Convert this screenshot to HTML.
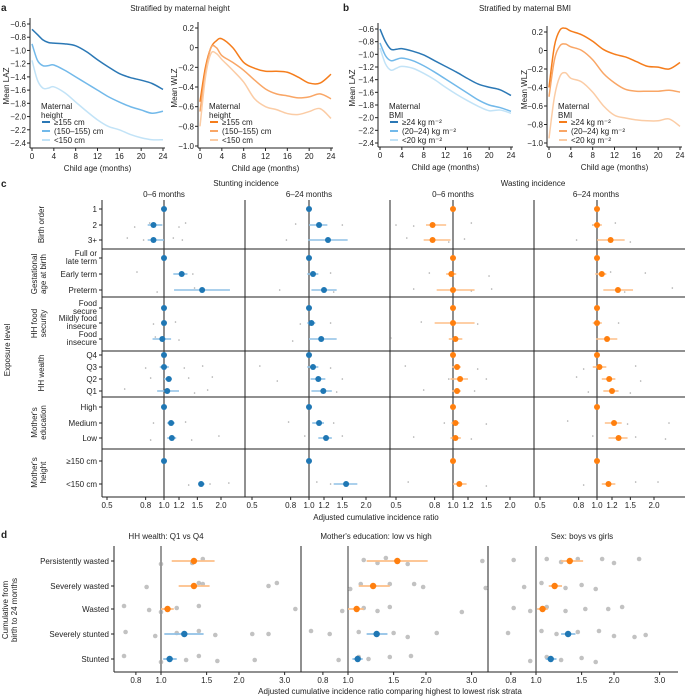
<!DOCTYPE html>
<html><head><meta charset="utf-8"><style>
html,body{margin:0;padding:0;background:#fff;}
svg{display:block;font-family:"Liberation Sans",Arial,sans-serif;}
text{fill:#222;font-size:8px;}
</style></head><body>
<svg id="fig" width="685" height="697" viewBox="0 0 685 697" xmlns="http://www.w3.org/2000/svg">
<g id="static">
<text x="1" y="11" style="font-size:10px;font-weight:bold">a</text>
<text x="343" y="11" style="font-size:10px;font-weight:bold">b</text>
<text x="1" y="187" style="font-size:10px;font-weight:bold">c</text>
<text x="1" y="538" style="font-size:10px;font-weight:bold">d</text>
<text x="180" y="11" text-anchor="middle">Stratified by maternal height</text>
<text x="525" y="11" text-anchor="middle">Stratified by maternal BMI</text>
<text x="246" y="186" text-anchor="middle">Stunting incidence</text>
<text x="533" y="186" text-anchor="middle">Wasting incidence</text>
<text x="164" y="197" text-anchor="middle">0–6 months</text>
<text x="309" y="197" text-anchor="middle">6–24 months</text>
<text x="453" y="197" text-anchor="middle">0–6 months</text>
<text x="596" y="197" text-anchor="middle">6–24 months</text>
<text x="376" y="520" text-anchor="middle">Adjusted cumulative incidence ratio</text>
<text transform="translate(10,350) rotate(-90)" text-anchor="middle">Exposure level</text>
<text x="166" y="539" text-anchor="middle">HH wealth: Q1 vs Q4</text>
<text x="376" y="539" text-anchor="middle">Mother's education: low vs high</text>
<text x="582" y="539" text-anchor="middle">Sex: boys vs girls</text>
<text x="390" y="694" text-anchor="middle">Adjusted cumulative incidence ratio comparing highest to lowest risk strata</text>
<text transform="translate(8,610) rotate(-90)" text-anchor="middle"><tspan x="0" dy="0">Cumulative from</tspan><tspan x="0" dy="9">birth to 24 months</tspan></text>
</g>
<g id="dyn"></g>
</svg>
<script>
// ---------- Panel a/b data ----------
const ages = [0,1,2,3,4,6,8,10,12,14,16,18,20,22,24];
const aLazHigh = [-0.68,-0.76,-0.84,-0.88,-0.89,-0.90,-0.93,-1.02,-1.14,-1.25,-1.35,-1.41,-1.45,-1.50,-1.59];
const aLazMid  = [-0.90,-1.15,-1.23,-1.23,-1.22,-1.30,-1.40,-1.50,-1.60,-1.70,-1.78,-1.85,-1.90,-1.95,-1.92];
const aLazLow  = [-1.15,-1.45,-1.57,-1.57,-1.55,-1.64,-1.78,-1.92,-2.05,-2.15,-2.20,-2.27,-2.32,-2.35,-2.35];
const aWlzHigh = [-0.55,-0.20,0.00,0.07,0.09,0.00,-0.15,-0.21,-0.24,-0.24,-0.25,-0.30,-0.36,-0.36,-0.27];
const aWlzMid  = [-0.65,-0.25,0.00,0.00,-0.08,-0.15,-0.23,-0.33,-0.42,-0.47,-0.49,-0.51,-0.50,-0.47,-0.52];
const aWlzLow  = [-0.80,-0.30,-0.06,-0.06,-0.12,-0.23,-0.35,-0.52,-0.60,-0.63,-0.67,-0.68,-0.65,-0.62,-0.72];
const bLazHigh = [-0.60,-0.80,-0.92,-0.92,-0.91,-0.95,-1.01,-1.10,-1.19,-1.28,-1.38,-1.47,-1.52,-1.56,-1.65];
const bLazMid  = [-0.82,-1.02,-1.10,-1.08,-1.06,-1.10,-1.18,-1.28,-1.39,-1.50,-1.61,-1.72,-1.80,-1.84,-1.90];
const bLazLow  = [-0.90,-1.15,-1.25,-1.22,-1.19,-1.22,-1.30,-1.40,-1.52,-1.63,-1.73,-1.82,-1.89,-1.88,-1.93];
const bWlzHigh = [-0.40,0.05,0.22,0.24,0.21,0.17,0.10,0.01,-0.04,-0.07,-0.12,-0.17,-0.18,-0.20,-0.13];
const bWlzMid  = [-0.50,-0.10,0.05,0.07,0.04,0.00,-0.10,-0.25,-0.35,-0.42,-0.44,-0.44,-0.44,-0.43,-0.45];
const bWlzLow  = [-0.95,-0.50,-0.28,-0.24,-0.30,-0.34,-0.45,-0.60,-0.70,-0.73,-0.75,-0.76,-0.76,-0.74,-0.82];
const ageTicks = [0,4,8,12,16,20,24];
const lazTicks = [-0.6,-0.8,-1.0,-1.2,-1.4,-1.6,-1.8,-2.0,-2.2,-2.4];
const wlzTicks = [0.2,0,-0.2,-0.4,-0.6,-0.8,-1.0];
const heightLegend = ["≥155 cm","(150–155) cm","<150 cm"];
const bmiLegend = ["≥24 kg m⁻²","(20–24) kg m⁻²","<20 kg m⁻²"];

// ---------- Panel c data ----------
const cRows = ["1","2","3+","Full or|late term","Early term","Preterm","Food|secure","Mildly food|insecure","Food|insecure","Q4","Q3","Q2","Q1","High","Medium","Low","≥150 cm","<150 cm"];
const cGroups = ["Birth order","Gestational|age at birth","HH food|security","HH wealth","Mother's|education","Mother's|height"];
const cTickVals = [0.5,0.8,1.0,1.2,1.5,2.0];
const cTickLabels = ["0.5","0.8","1.0","1.2","1.5","2.0"];
const c1Est = [1,0.88,0.88,1,1.24,1.59,1,1.0,0.98,1,1.0,1.06,1.04,1,1.09,1.10,1,1.57];
const c1Lo  = [1,0.82,0.82,1,1.12,1.13,1,0.97,0.87,1,0.95,1.0,0.92,1,1.04,1.04,1,1.52];
const c1Hi  = [1,0.98,1.0,1,1.33,2.23,1,1.03,1.09,1,1.06,1.1,1.2,1,1.14,1.16,1,1.64];
const c2Est = [1,1.13,1.26,1,1.05,1.2,1,1.03,1.16,1,1.05,1.12,1.19,1,1.13,1.23,1,1.57];
const c2Lo  = [1,1.0,0.99,1,0.98,1.03,1,0.98,1.0,1,0.98,1.02,1.03,1,1.04,1.12,1,1.35];
const c2Hi  = [1,1.25,1.6,1,1.12,1.4,1,1.08,1.4,1,1.12,1.22,1.32,1,1.2,1.32,1,1.8];
const c3Est = [1,0.78,0.78,1,0.98,1.0,1,1.0,1.03,1,1.05,1.09,1.05,1,1.03,1.03,1,1.08];
const c3Lo  = [1,0.72,0.7,1,0.92,0.82,1,0.8,0.95,1,0.99,0.97,0.99,1,0.98,0.97,1,1.0];
const c3Hi  = [1,0.92,0.97,1,1.04,1.3,1,1.3,1.12,1,1.1,1.2,1.1,1,1.08,1.1,1,1.18];
const c4Est = [1,1.0,1.18,1,1.06,1.29,1,1.0,1.13,1,1.03,1.16,1.2,1,1.23,1.3,1,1.15];
const c4Lo  = [1,0.95,1.0,1,0.98,1.08,1,0.95,0.99,1,0.95,1.06,1.08,1,1.1,1.15,1,1.06];
const c4Hi  = [1,1.06,1.4,1,1.12,1.55,1,1.06,1.28,1,1.12,1.25,1.3,1,1.35,1.45,1,1.25];
// grey study-level points [row, ratio]
const c1Grey = [[1,0.7],[1,0.84],[1,1.2],[1,1.3],[2,0.64],[2,0.78],[2,1.12],[2,1.25],[4,0.72],[4,1.42],[5,0.92],[5,1.45],[5,1.6],[7,0.88],[7,1.15],[8,0.9],[8,1.2],[10,0.8],[10,1.28],[10,1.6],[11,0.85],[11,1.35],[11,1.8],[12,0.62],[12,1.45],[12,1.7],[14,0.88],[14,1.3],[15,0.85],[15,1.4],[15,1.95],[17,1.35],[17,1.75],[17,2.2]];
const c2Grey = [[1,0.85],[1,1.5],[2,0.76],[4,1.3],[5,0.7],[5,1.35],[7,0.9],[7,1.3],[8,0.82],[10,0.55],[10,1.3],[11,0.68],[11,1.5],[12,1.4],[14,0.78],[14,1.35],[15,0.95],[15,1.5],[17,1.1],[17,1.3]];
const c3Grey = [[1,0.5],[1,0.62],[1,1.25],[2,0.57],[2,0.95],[2,1.15],[4,0.75],[4,1.55],[5,0.62],[5,1.25],[5,1.6],[7,0.68],[7,1.35],[8,0.47],[10,0.56],[10,1.35],[11,0.95],[11,1.5],[12,0.7],[12,1.3],[14,0.9],[14,1.5],[15,0.62],[15,1.25],[17,0.58],[17,1.5]];
const c4Grey = [[1,0.95],[1,1.25],[2,0.78],[2,1.5],[4,1.18],[4,1.8],[5,1.4],[5,2.5],[7,1.3],[8,1.15],[10,0.85],[10,1.6],[11,0.78],[11,1.7],[12,0.9],[12,1.5],[14,0.7],[14,1.45],[14,2.4],[15,0.95],[15,1.6],[15,2.3],[17,0.85],[17,1.6],[17,2.1]];

// ---------- Panel d data ----------
const dRows = ["Persistently wasted","Severely wasted","Wasted","Severely stunted","Stunted"];
const dTickVals = [0.8,1.0,1.5,2.0,3.0];
const dTickLabels = ["0.8","1.0","1.5","2.0","3.0"];
const d1Est = [1.34,1.34,1.06,1.23,1.08];
const d1Lo  = [1.10,1.17,1.00,1.03,1.02];
const d1Hi  = [1.61,1.54,1.12,1.46,1.15];
const d2Est = [1.55,1.25,1.08,1.29,1.09];
const d2Lo  = [1.18,1.10,1.00,1.18,1.04];
const d2Hi  = [2.03,1.45,1.15,1.42,1.14];
const d3Est = [1.35,1.18,1.06,1.33,1.14];
const d3Lo  = [1.25,1.12,1.01,1.25,1.09];
const d3Hi  = [1.52,1.26,1.11,1.42,1.20];
const d1Grey = [[0,1.0],[0,1.32],[0,1.45],[1,0.88],[1,1.4],[1,1.45],[1,2.6],[1,2.8],[2,0.72],[2,0.9],[2,1.0],[2,1.15],[2,1.4],[2,3.3],[3,0.73],[3,0.95],[3,1.15],[3,1.4],[3,1.62],[3,2.25],[3,2.6],[4,0.72],[4,1.0],[4,1.25],[4,1.4],[4,1.65],[4,2.3]];
const d2Grey = [[0,1.15],[0,1.3],[0,1.4],[0,1.7],[0,3.3],[1,1.02],[1,1.12],[1,1.45],[1,1.8],[1,1.95],[1,3.4],[2,0.95],[2,1.15],[2,1.3],[2,1.45],[2,2.75],[3,0.72],[3,0.85],[3,1.1],[3,1.5],[3,1.7],[3,2.2],[4,0.92],[4,1.1],[4,1.2],[4,1.45],[4,1.75]];
const d3Grey = [[0,0.82],[0,1.1],[0,1.25],[0,1.45],[0,1.8],[0,2.0],[0,2.5],[1,0.9],[1,1.05],[1,1.3],[1,1.5],[1,1.7],[2,0.82],[2,0.95],[2,1.1],[2,1.3],[2,1.55],[2,1.9],[2,2.15],[3,0.78],[3,1.05],[3,1.2],[3,1.45],[3,1.75],[3,2.0],[3,2.4],[3,2.65],[4,0.95],[4,1.1],[4,1.25],[4,1.5],[4,1.7]];

const NS = "http://www.w3.org/2000/svg";
const root = document.getElementById("dyn");
function mk(tag, attrs, parent, txt){
  const e = document.createElementNS(NS, tag);
  for (const k in attrs) e.setAttribute(k, attrs[k]);
  if (txt !== undefined) e.textContent = txt;
  (parent || root).appendChild(e);
  return e;
}
function smooth(pts){
  let d = "M" + pts[0][0] + "," + pts[0][1];
  for (let i = 0; i < pts.length - 1; i++){
    const p0 = pts[Math.max(i-1,0)], p1 = pts[i], p2 = pts[i+1], p3 = pts[Math.min(i+2,pts.length-1)];
    const c1x = p1[0] + (p2[0]-p0[0])/6, c1y = p1[1] + (p2[1]-p0[1])/6;
    const c2x = p2[0] - (p3[0]-p1[0])/6, c2y = p2[1] - (p3[1]-p1[1])/6;
    d += " C" + c1x + "," + c1y + " " + c2x + "," + c2y + " " + p2[0] + "," + p2[1];
  }
  return d;
}

// ---------- line panels ----------
function linePanel(cfg){
  const g = mk("g", {});
  
  
  const xs = a => cfg.x0 + (a/24)*(cfg.x1 - cfg.x0);
  const ys = v => cfg.yTop + (cfg.vTop - v)/(cfg.vTop - cfg.vBot)*(cfg.yBot - cfg.yTop);
  mk("line", {x1:cfg.x0-2, x2:cfg.x0-2, y1:cfg.yTop-6, y2:cfg.axisY, stroke:"#222", "stroke-width":1}, g);
  mk("line", {x1:cfg.x0-2, x2:cfg.x1+2, y1:cfg.axisY, y2:cfg.axisY, stroke:"#222", "stroke-width":1}, g);
  cfg.yticks.forEach(v => {
    const y = ys(v);
    mk("line", {x1:cfg.x0-5, x2:cfg.x0-2, y1:y, y2:y, stroke:"#222"}, g);
    const t = mk("text", {x:cfg.x0-6, y:y+3, "text-anchor":"end"}, g, (v<0?"−":"") + (Math.abs(v)===0?"0":Math.abs(v).toFixed(1)));
    
    
  });
  ageTicks.forEach(a => {
    const x = xs(a);
    mk("line", {x1:x, x2:x, y1:cfg.axisY, y2:cfg.axisY+3, stroke:"#222"}, g);
    const t = mk("text", {x:x, y:cfg.axisY+11, "text-anchor":"middle"}, g, String(a));
    
    
  });
  const xt = mk("text", {x:(cfg.x0+cfg.x1)/2, y:cfg.axisY+23, "text-anchor":"middle"}, g, "Child age (months)");
  
  
  const yt = mk("text", {transform:"translate(" + cfg.ytx + "," + ((cfg.yTop+cfg.axisY)/2) + ") rotate(-90)", "text-anchor":"middle"}, g, cfg.ytitle);
  
  
  cfg.series.forEach((s, i) => {
    const pts = ages.map((a, j) => [xs(a), ys(s[j])]);
    const p = mk("path", {d:smooth(pts), fill:"none", stroke:cfg.colors[i], "stroke-width":1.5}, g);
    
    
  });
  const lx = cfg.x0 + 9;
  const lt = mk("text", {x:lx, y:109}, g);
  
  
  mk("tspan", {x:lx, dy:0}, lt, "Maternal");
  mk("tspan", {x:lx, dy:9}, lt, cfg.legendSub);
  cfg.legend.forEach((l, i) => {
    const y = 125 + i*9;
    mk("line", {x1:lx+1, x2:lx+9, y1:y-3, y2:y-3, stroke:cfg.colors[i], "stroke-width":2}, g);
    const t = mk("text", {x:lx+13, y:y}, g, l);
    
    
  });
}
const blues = ["#2b78b5","#72b9ea","#c2e3f7"];
const oranges = ["#f57d1c","#f9a666","#fbcca5"];
linePanel({name:"panel-a-laz", x0:32, x1:163, yTop:24, yBot:143, vTop:-0.6, vBot:-2.4, axisY:148, yticks:lazTicks, ytx:9, ytitle:"Mean LAZ", series:[aLazHigh,aLazMid,aLazLow], colors:blues, legend:heightLegend, legendSub:"height"});
linePanel({name:"panel-a-wlz", x0:200, x1:331, yTop:28, yBot:146, vTop:0.2, vBot:-1.0, axisY:148, yticks:wlzTicks, ytx:177, ytitle:"Mean WLZ", series:[aWlzHigh,aWlzMid,aWlzLow], colors:oranges, legend:heightLegend, legendSub:"height"});
linePanel({name:"panel-b-laz", x0:380, x1:511, yTop:29, yBot:143, vTop:-0.6, vBot:-2.4, axisY:147, yticks:lazTicks, ytx:355, ytitle:"Mean LAZ", series:[bLazHigh,bLazMid,bLazLow], colors:blues, legend:bmiLegend, legendSub:"BMI"});
linePanel({name:"panel-b-wlz", x0:549, x1:680, yTop:32, yBot:143, vTop:0.2, vBot:-1.0, axisY:147, yticks:wlzTicks, ytx:527, ytitle:"Mean WLZ", series:[bWlzHigh,bWlzMid,bWlzLow], colors:oranges, legend:bmiLegend, legendSub:"BMI"});

// ---------- panel c ----------
const cRowY = [209,225,240,258,274,290,308,323,339,355,367,379,391,407,423,438,461,484];
const cGroupStart = [0,3,6,9,13,16];
const cDividersY = [249,297,351,397,449];
const cTop = 200, cBot = 497, cLeft = 102, cRight = 685;
const cUnit = 57;
const cOrigins = [164,309,453,597];
const gc = mk("g", {});


mk("line", {x1:cLeft, x2:cLeft, y1:cTop, y2:cBot, stroke:"#222"}, gc);
mk("line", {x1:cLeft, x2:cRight, y1:cBot, y2:cBot, stroke:"#222"}, gc);
[245,390,534].forEach(x => mk("line", {x1:x, x2:x, y1:cTop, y2:cBot, stroke:"#222"}, gc));
cDividersY.forEach(y => mk("line", {x1:cLeft, x2:cRight, y1:y, y2:y, stroke:"#222"}, gc));
cRows.forEach((r, i) => {
  const parts = r.split("|");
  const y = cRowY[i];
  mk("line", {x1:cLeft-3, x2:cLeft, y1:y, y2:y, stroke:"#222"}, gc);
  const t = mk("text", {x:cLeft-5, y: parts.length>1 ? y-2 : y+3, "text-anchor":"end"}, gc);
  
  
  parts.forEach((p, k) => mk("tspan", {x:cLeft-5, dy:k?8:0}, t, p));
});
cGroups.forEach((gname, i) => {
  const s = cGroupStart[i], e = (i+1<cGroupStart.length ? cGroupStart[i+1] : cRows.length) - 1;
  const cy = (cRowY[s] + cRowY[e]) / 2;
  const parts = gname.split("|");
  const t = mk("text", {transform:"translate(" + (parts.length>1?37:44) + "," + cy + ") rotate(-90)", "text-anchor":"middle"}, gc);
  
  
  parts.forEach((p, k) => mk("tspan", {x:0, dy:k?9:0}, t, p));
});
function cPanel(idx, est, lo, hi, grey, col, ciCol){
  const o = cOrigins[idx];
  const xs = v => o + Math.log2(v) * cUnit;
  cTickVals.forEach((v, k) => {
    const x = xs(v);
    mk("line", {x1:x, x2:x, y1:cBot, y2:cBot+3, stroke:"#222"}, gc);
    const t = mk("text", {x:x, y:cBot+11, "text-anchor":"middle"}, gc, cTickLabels[k]);
    
    
  });
  mk("line", {x1:xs(1), x2:xs(1), y1:cTop, y2:cBot, stroke:"#333", "stroke-width":1.1}, gc);
  grey.forEach(p => {
    const c = mk("circle", {cx:xs(p[1]), cy:cRowY[p[0]] + ((p[0]*7 + Math.round(p[1]*10)) % 5 - 2), r:0.8, fill:"#aaa"}, gc);
    
    
  });
  est.forEach((v, i) => {
    const y = cRowY[i];
    const l = mk("line", {x1:xs(lo[i]), x2:xs(hi[i]), y1:y, y2:y, stroke:ciCol, "stroke-width":1.6}, gc);
    
    
    const c = mk("circle", {cx:xs(v), cy:y, r:3, fill:col}, gc);
    
    
  });
}
cPanel(0, c1Est, c1Lo, c1Hi, c1Grey, "#1f77b4", "#8fc1e6");
cPanel(1, c2Est, c2Lo, c2Hi, c2Grey, "#1f77b4", "#8fc1e6");
cPanel(2, c3Est, c3Lo, c3Hi, c3Grey, "#ff7f0e", "#fdbf88");
cPanel(3, c4Est, c4Lo, c4Hi, c4Grey, "#ff7f0e", "#fdbf88");

// ---------- panel d ----------
const dRowY = [561,586,609,634,659];
const dTop = 546, dBot = 672, dLeft = 114, dRight = 678;
const dUnit = 78;
const dOrigins = [161,348,536];
const gd = mk("g", {});


mk("line", {x1:dLeft, x2:dLeft, y1:dTop, y2:dBot, stroke:"#222"}, gd);
mk("line", {x1:dLeft, x2:dRight, y1:dBot, y2:dBot, stroke:"#222"}, gd);
[301,488].forEach(x => mk("line", {x1:x, x2:x, y1:dTop, y2:dBot, stroke:"#222"}, gd));
dRows.forEach((r, i) => {
  mk("line", {x1:dLeft-3, x2:dLeft, y1:dRowY[i], y2:dRowY[i], stroke:"#222"}, gd);
  const t = mk("text", {x:dLeft-5, y:dRowY[i]+3, "text-anchor":"end"}, gd, r);
  
  
});
function dPanel(idx, est, lo, hi, grey){
  const o = dOrigins[idx];
  const xs = v => o + Math.log2(v) * dUnit;
  dTickVals.forEach((v, k) => {
    const x = xs(v);
    mk("line", {x1:x, x2:x, y1:dBot, y2:dBot+3, stroke:"#222"}, gd);
    const t = mk("text", {x:x, y:dBot+11, "text-anchor":"middle"}, gd, dTickLabels[k]);
    
    
  });
  mk("line", {x1:xs(1), x2:xs(1), y1:dTop, y2:dBot, stroke:"#333", "stroke-width":1}, gd);
  grey.forEach(p => {
    const c = mk("circle", {cx:xs(p[1]), cy:dRowY[p[0]] + ((Math.round(p[1]*20) % 7) - 3), r:2.3, fill:"#999", "fill-opacity":0.6}, gd);
    
    
  });
  est.forEach((v, i) => {
    const y = dRowY[i];
    const col = i < 3 ? "#ff7f0e" : "#1f77b4";
    const ci = i < 3 ? "#fdbf88" : "#8fc1e6";
    const l = mk("line", {x1:xs(lo[i]), x2:xs(hi[i]), y1:y, y2:y, stroke:ci, "stroke-width":1.8}, gd);
    
    
    const c = mk("circle", {cx:xs(v), cy:y, r:3.2, fill:col}, gd);
    
    
  });
}
dPanel(0, d1Est, d1Lo, d1Hi, d1Grey);
dPanel(1, d2Est, d2Lo, d2Hi, d2Grey);
dPanel(2, d3Est, d3Lo, d3Hi, d3Grey);
</script>
</body></html>
